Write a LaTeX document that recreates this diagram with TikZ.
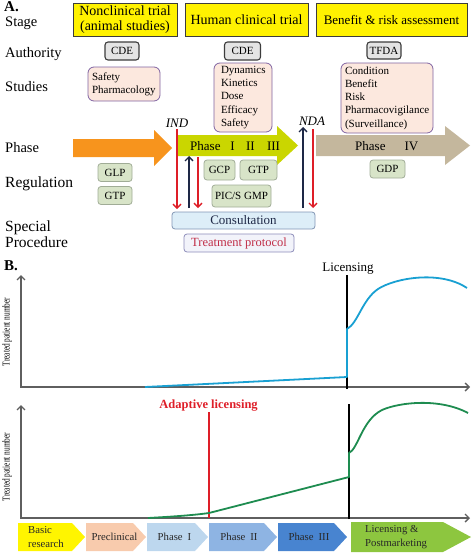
\documentclass[tikz,border=0pt]{standalone}
\usepackage{fontspec}
\usepackage{graphicx}
\setmainfont{Liberation Serif}
\usetikzlibrary{arrows.meta}
\newcommand\fsz[2]{\fontsize{#1}{#2}\selectfont}
\definecolor{ystage}{RGB}{255,242,0}
\definecolor{boxline}{RGB}{60,60,60}
\definecolor{authfill}{RGB}{228,228,228}
\definecolor{studfill}{RGB}{252,232,222}
\definecolor{studline}{RGB}{128,100,162}
\definecolor{regfill}{RGB}{216,228,200}
\definecolor{regline}{RGB}{160,172,150}
\definecolor{consfill}{RGB}{221,238,248}
\definecolor{consline}{RGB}{130,150,180}
\definecolor{treatfill}{RGB}{242,243,250}
\definecolor{treatline}{RGB}{140,140,185}
\definecolor{treattext}{RGB}{192,44,70}
\definecolor{orangeA}{RGB}{247,148,29}
\definecolor{limeA}{RGB}{202,214,0}
\definecolor{tanA}{RGB}{196,183,157}
\definecolor{redA}{RGB}{222,30,40}
\definecolor{navyA}{RGB}{30,40,70}
\definecolor{axisg}{RGB}{95,95,95}
\definecolor{blueC}{RGB}{25,160,210}
\definecolor{greenC}{RGB}{30,140,80}
\definecolor{chev1}{RGB}{255,245,0}
\definecolor{chev2}{RGB}{248,203,173}
\definecolor{chev3}{RGB}{189,215,238}
\definecolor{chev4}{RGB}{142,180,227}
\definecolor{chev5}{RGB}{72,132,208}
\definecolor{chev6}{RGB}{141,198,63}
\definecolor{chevtext}{RGB}{40,40,40}
\begin{document}
\begin{tikzpicture}[x=1pt,y=-1pt,
  lab/.style={anchor=base west, inner sep=0pt, font=\fsz{14.5}{17}},
  ybox/.style={draw=boxline, fill=ystage, line width=0.9pt, inner sep=0pt, align=center, font=\fsz{14}{15.5}},
  authbox/.style={draw=boxline, fill=authfill, rounded corners=3pt, line width=1.1pt, inner sep=0pt, font=\fsz{11}{13}},
  studbox/.style={draw=studline, fill=studfill, rounded corners=6pt, line width=0.8pt, align=left, inner ysep=0pt, font=\fsz{11}{13.2}},
  regbox/.style={draw=regline, fill=regfill, rounded corners=3pt, line width=0.8pt, inner sep=0pt, font=\fsz{11}{13}},
  consbox/.style={draw=consline, fill=consfill, rounded corners=3pt, line width=0.8pt, inner sep=0pt, text=navyA, font=\fsz{13}{15}},
  treatbox/.style={draw=treatline, fill=treatfill, rounded corners=3pt, line width=0.8pt, inner sep=0pt, text=treattext, font=\fsz{12.5}{15}},
  redarr/.style={draw=redA, line width=1.4pt, -{Straight Barb[length=4pt,width=8pt]}},
  navyarr/.style={draw=navyA, line width=1.4pt, -{Straight Barb[length=4pt,width=8pt]}},
  axisline/.style={draw=axisg, line width=1.4pt, {Straight Barb[length=4pt,width=8pt]}-{Straight Barb[length=4pt,width=8pt]}},
  ylab/.style={rotate=90, inner sep=0pt, font=\fsz{10.5}{12}},
  chevlab/.style={inner sep=0pt, text=chevtext, font=\fsz{10.7}{13.5}, align=left}
]
\useasboundingbox (0,0) rectangle (474,554);

% ---------- Part A row labels
\node[lab, font=\bfseries\fsz{15}{17}] (labA) at (4,11) {A.};
\node[lab] (labStage) at (5,27) {Stage};
\node[lab] (labAuth) at (5,57) {Authority};
\node[lab] (labStud) at (5,91) {Studies};
\node[lab] (labPhase) at (5,152) {Phase};
\node[lab, font=\fsz{15.5}{18}] (labReg) at (5,187) {Regulation};
\node[lab, font=\fsz{15.5}{18}] (labSp) at (5,231) {Special};
\node[lab, font=\fsz{15.5}{18}] (labPr) at (5,247) {Procedure};

% ---------- Stage boxes
\node[ybox, minimum width=104pt, minimum height=33pt] (st1) at (125,19.5) {Nonclinical trial\\(animal studies)};
\node[ybox, minimum width=123pt, minimum height=33pt] (st2) at (246.5,19.5) {Human clinical trial};
\node[ybox, minimum width=151pt, minimum height=33pt, font=\fsz{13}{15}] (st3) at (391.5,19.5) {Benefit \& risk assessment};

% ---------- Authority
\node[authbox, minimum width=34pt, minimum height=18pt] (cde1) at (122,51) {CDE};
\node[authbox, minimum width=36pt, minimum height=18pt] (cde2) at (242.5,51) {CDE};
\node[authbox, minimum width=34pt, minimum height=17pt] (tfda) at (384,50.5) {TFDA};

% ---------- Studies
\node[studbox, text width=64pt, inner xsep=4pt, minimum height=34pt] (s1) at (124,84) {Safety\\Pharmacology};
\node[studbox, text width=44pt, inner xsep=7pt, minimum height=69pt] (s2) at (243,97.5) {Dynamics\\Kinetics\\Dose\\Efficacy\\Safety};
\node[studbox, text width=84pt, inner xsep=4pt, minimum height=70pt] (s3) at (387,98) {Condition\\Benefit\\Risk\\Pharmacovigilance\\(Surveillance)};

% ---------- Phase arrows
\fill[orangeA] (73,139) -- (154,139) -- (154,130) -- (172,148) -- (154,166) -- (154,157) -- (73,157) -- cycle;
\fill[limeA] (178,135) -- (277,135) -- (277,126) -- (298,145.5) -- (277,165) -- (277,156) -- (178,156) -- cycle;
\fill[tanA] (316,135) -- (445,135) -- (445,126) -- (470,145.5) -- (445,165) -- (445,156) -- (316,156) -- cycle;
\node[anchor=west, inner sep=0pt, font=\fsz{13}{15}] (ph13) at (190,146) {Phase\hspace{9.8pt}I\hspace{11.5pt}II\hspace{12.2pt}III};
\node[anchor=west, inner sep=0pt, font=\fsz{13}{15}] (ph4) at (355,146) {Phase\hspace{19pt}IV};

% ---------- Regulation
\node[regbox, minimum width=34pt, minimum height=18pt] (glp) at (115,172.5) {GLP};
\node[regbox, minimum width=34pt, minimum height=18pt] (gtp1) at (115,195.5) {GTP};
\node[regbox, minimum width=31pt, minimum height=20pt] (gcp) at (219.5,170) {GCP};
\node[regbox, minimum width=37pt, minimum height=20pt] (gtp2) at (258.5,170) {GTP};
\node[regbox, minimum width=59pt, minimum height=22pt] (pics) at (241.5,196) {PIC/S GMP};
\node[regbox, minimum width=35pt, minimum height=18pt] (gdp) at (387.5,169) {GDP};

% ---------- Special procedure
\node[consbox, minimum width=143pt, minimum height=17pt] (cons) at (243.5,220.5) {Consultation};
\node[treatbox, minimum width=110pt, minimum height=18pt] (treat) at (239,243) {Treatment protocol};

% ---------- IND / NDA arrows
\node[font=\itshape\fsz{13}{15}, inner sep=0pt] (ind) at (177,123) {IND};
\node[font=\itshape\fsz{13}{15}, inner sep=0pt] (nda) at (312,121) {NDA};
\coordinate (indB) at (177,209);
\coordinate (n1a) at (189,208);
\coordinate (n1b) at (189,156);
\coordinate (r2a) at (198,157);
\coordinate (r2b) at (198,208);
\coordinate (n2a) at (303,208);
\coordinate (n2b) at (303,127);
\coordinate (r3a) at (313,129);
\coordinate (r3b) at (313,208);
\draw[redarr] (ind.south) ++(0,1.5) -- (indB);
\draw[navyarr] (n1a) -- (n1b);
\draw[redarr] (r2a) -- (r2b);
\draw[navyarr] (n2a) -- (n2b);
\draw[redarr] (r3a) -- (r3b);

% ---------- Part B
\node[lab, font=\bfseries\fsz{15}{17}] (labB) at (4,270) {B.};

% top chart
\coordinate (o1) at (21,387);
\coordinate (y1) at (21,275);
\coordinate (x1) at (470,387);
\draw[axisline] (y1) -- (o1) -- (x1);
\node[ylab] (yl1) at (7,332) {\scalebox{0.7}[1]{Treated patient number}};
\coordinate (lic1t) at (347,275);
\coordinate (lic1b) at (347,389);
\draw[black, line width=2pt] (lic1b) -- (lic1t);
\node[font=\fsz{13}{15}, anchor=base, inner sep=0pt] (lic1) at (348,271.5) {Licensing};
\draw[blueC, line width=1.8pt, line join=round]
  (145,387) -- (347,377) -- (347,329)
  .. controls (358,323) and (362,300) .. (378,289)
  .. controls (395,278) and (440,270) .. (467,288);

% bottom chart
\coordinate (o2) at (21,518);
\coordinate (y2) at (21,405);
\coordinate (x2) at (470,518);
\draw[axisline] (y2) -- (o2) -- (x2);
\node[ylab] (yl2) at (7,467) {\scalebox{0.7}[1]{Treated patient number}};
\coordinate (adt) at (209,412);
\coordinate (adb) at (209,518);
\draw[redA, line width=1.5pt] (adb) -- (adt);
\node[font=\bfseries\fsz{12.5}{15}, text=redA, anchor=base, inner sep=0pt] (adl) at (208.6,408) {Adaptive licensing};
\coordinate (lic2t) at (349,404);
\coordinate (lic2b) at (349,519);
\draw[black, line width=2pt] (lic2b) -- (lic2t);
\draw[greenC, line width=1.8pt, line join=round]
  (148,518) .. controls (175,516.5) and (195,515) .. (209,513)
  -- (349,477) -- (349,453)
  .. controls (358,449) and (362,420) .. (382,410)
  .. controls (400,402) and (440,398) .. (468,413);

% ---------- chevrons
\fill[chev1] (18,523) -- (72,523) -- (85,537) -- (72,551) -- (18,551) -- cycle;
\fill[chev2] (86,523) -- (133,523) -- (146,537) -- (133,551) -- (86,551) -- cycle;
\fill[chev3] (147,523) -- (195,523) -- (208,537) -- (195,551) -- (147,551) -- cycle;
\fill[chev4] (209,523) -- (264,523) -- (277,537) -- (264,551) -- (209,551) -- cycle;
\fill[chev5] (278,523) -- (334,523) -- (347,537) -- (334,551) -- (278,551) -- cycle;
\fill[chev6] (351,522) -- (443,522) -- (471,537) -- (443,552) -- (351,552) -- cycle;
\node[chevlab, anchor=west] (c1) at (28,537) {Basic\\research};
\node[chevlab] (c2) at (114.5,537) {Preclinical};
\node[chevlab] (c3) at (174.5,537) {Phase\hspace{5pt}I};
\node[chevlab] (c4) at (239,537) {Phase\hspace{5pt}II};
\node[chevlab] (c5) at (309,537) {Phase\hspace{5pt}III};
\node[chevlab, anchor=west] (c6) at (365,537) {Licensing \&\\Postmarketing};
\end{tikzpicture}
\end{document}
